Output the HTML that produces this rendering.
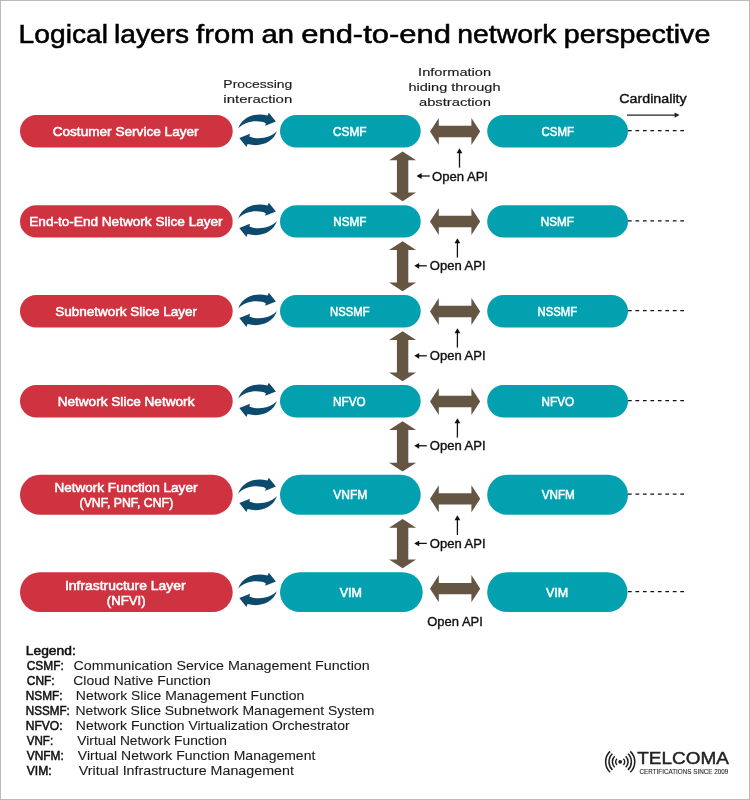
<!DOCTYPE html><html><head><meta charset="utf-8"><style>html,body{margin:0;padding:0;background:#fff;overflow:hidden}svg{display:block;will-change:transform}text{font-family:"Liberation Sans",sans-serif}</style></head><body>
<svg width="750" height="800" viewBox="0 0 750 800">
<rect x="0" y="0" width="750" height="800" fill="#fff"/>
<rect x="0.5" y="0.5" width="749" height="799" fill="none" stroke="#bbbbbb" stroke-width="1"/>
<line x1="627" y1="115.1" x2="675" y2="115.1" stroke="#222" stroke-width="1.2"/>
<path d="M679.6 115.1 L674.6 112.4 L674.6 117.8 Z" fill="#222"/>
<rect x="20" y="115" width="212.7" height="32.5" rx="16.25" ry="16.25" fill="#cf3340"/>
<rect x="280" y="115" width="140.7" height="32.5" rx="16.25" ry="16.25" fill="#03a0b0"/>
<rect x="487.2" y="115" width="140.8" height="32.5" rx="16.25" ry="16.25" fill="#03a0b0"/>
<g transform="translate(257.6 129.8)" fill="#0c4a6e"><path d="M-19.4 -1.3 C-15.5 -12.3 -4 -17.8 10 -14.3 L11.2 -17.1 L18.3 -8.2 L7.6 -4 L8.2 -6.6 C2 -9.8 -12 -9.6 -19.4 -1.3 Z"/><path d="M-19.4 -1.3 C-15.5 -12.3 -4 -17.8 10 -14.3 L11.2 -17.1 L18.3 -8.2 L7.6 -4 L8.2 -6.6 C2 -9.8 -12 -9.6 -19.4 -1.3 Z" transform="rotate(180)"/></g>
<rect x="20" y="205.3" width="212.7" height="32.2" rx="16.1" ry="16.1" fill="#cf3340"/>
<rect x="280" y="205.3" width="140.7" height="32.2" rx="16.1" ry="16.1" fill="#03a0b0"/>
<rect x="487.2" y="205.3" width="140.8" height="32.2" rx="16.1" ry="16.1" fill="#03a0b0"/>
<g transform="translate(257.6 219.8)" fill="#0c4a6e"><path d="M-19.4 -1.3 C-15.5 -12.3 -4 -17.8 10 -14.3 L11.2 -17.1 L18.3 -8.2 L7.6 -4 L8.2 -6.6 C2 -9.8 -12 -9.6 -19.4 -1.3 Z"/><path d="M-19.4 -1.3 C-15.5 -12.3 -4 -17.8 10 -14.3 L11.2 -17.1 L18.3 -8.2 L7.6 -4 L8.2 -6.6 C2 -9.8 -12 -9.6 -19.4 -1.3 Z" transform="rotate(180)"/></g>
<rect x="20" y="295" width="212.7" height="32.5" rx="16.25" ry="16.25" fill="#cf3340"/>
<rect x="280" y="295" width="140.7" height="32.5" rx="16.25" ry="16.25" fill="#03a0b0"/>
<rect x="487.2" y="295" width="140.8" height="32.5" rx="16.25" ry="16.25" fill="#03a0b0"/>
<g transform="translate(257.6 309.8)" fill="#0c4a6e"><path d="M-19.4 -1.3 C-15.5 -12.3 -4 -17.8 10 -14.3 L11.2 -17.1 L18.3 -8.2 L7.6 -4 L8.2 -6.6 C2 -9.8 -12 -9.6 -19.4 -1.3 Z"/><path d="M-19.4 -1.3 C-15.5 -12.3 -4 -17.8 10 -14.3 L11.2 -17.1 L18.3 -8.2 L7.6 -4 L8.2 -6.6 C2 -9.8 -12 -9.6 -19.4 -1.3 Z" transform="rotate(180)"/></g>
<rect x="20" y="385" width="212.7" height="32.5" rx="16.25" ry="16.25" fill="#cf3340"/>
<rect x="280" y="385" width="140.7" height="32.5" rx="16.25" ry="16.25" fill="#03a0b0"/>
<rect x="487.2" y="385" width="140.8" height="32.5" rx="16.25" ry="16.25" fill="#03a0b0"/>
<g transform="translate(257.6 399.8)" fill="#0c4a6e"><path d="M-19.4 -1.3 C-15.5 -12.3 -4 -17.8 10 -14.3 L11.2 -17.1 L18.3 -8.2 L7.6 -4 L8.2 -6.6 C2 -9.8 -12 -9.6 -19.4 -1.3 Z"/><path d="M-19.4 -1.3 C-15.5 -12.3 -4 -17.8 10 -14.3 L11.2 -17.1 L18.3 -8.2 L7.6 -4 L8.2 -6.6 C2 -9.8 -12 -9.6 -19.4 -1.3 Z" transform="rotate(180)"/></g>
<rect x="20" y="474.8" width="212.7" height="40" rx="20.0" ry="20.0" fill="#cf3340"/>
<rect x="280" y="474.8" width="140.7" height="40" rx="20.0" ry="20.0" fill="#03a0b0"/>
<rect x="487.2" y="474.8" width="140.8" height="40" rx="20.0" ry="20.0" fill="#03a0b0"/>
<g transform="translate(257.6 494.8)" fill="#0c4a6e"><path d="M-19.4 -1.3 C-15.5 -12.3 -4 -17.8 10 -14.3 L11.2 -17.1 L18.3 -8.2 L7.6 -4 L8.2 -6.6 C2 -9.8 -12 -9.6 -19.4 -1.3 Z"/><path d="M-19.4 -1.3 C-15.5 -12.3 -4 -17.8 10 -14.3 L11.2 -17.1 L18.3 -8.2 L7.6 -4 L8.2 -6.6 C2 -9.8 -12 -9.6 -19.4 -1.3 Z" transform="rotate(180)"/></g>
<rect x="20" y="572.2" width="212.7" height="39.9" rx="19.95" ry="19.95" fill="#cf3340"/>
<rect x="280" y="572.2" width="142.7" height="39.9" rx="19.95" ry="19.95" fill="#03a0b0"/>
<rect x="487.2" y="572.2" width="140.3" height="39.9" rx="19.95" ry="19.95" fill="#03a0b0"/>
<g transform="translate(257.6 589.8)" fill="#0c4a6e"><path d="M-19.4 -1.3 C-15.5 -12.3 -4 -17.8 10 -14.3 L11.2 -17.1 L18.3 -8.2 L7.6 -4 L8.2 -6.6 C2 -9.8 -12 -9.6 -19.4 -1.3 Z"/><path d="M-19.4 -1.3 C-15.5 -12.3 -4 -17.8 10 -14.3 L11.2 -17.1 L18.3 -8.2 L7.6 -4 L8.2 -6.6 C2 -9.8 -12 -9.6 -19.4 -1.3 Z" transform="rotate(180)"/></g>
<path d="M430 131.5 L438.8 117.9 L438.8 125.85 L471.4 125.85 L471.4 117.9 L480.2 131.5 L471.4 145.1 L471.4 137.15 L438.8 137.15 L438.8 145.1 Z" fill="#655644"/>
<path d="M430 221.5 L438.8 207.9 L438.8 215.85 L471.4 215.85 L471.4 207.9 L480.2 221.5 L471.4 235.1 L471.4 227.15 L438.8 227.15 L438.8 235.1 Z" fill="#655644"/>
<path d="M430 311.5 L438.8 297.9 L438.8 305.85 L471.4 305.85 L471.4 297.9 L480.2 311.5 L471.4 325.1 L471.4 317.15 L438.8 317.15 L438.8 325.1 Z" fill="#655644"/>
<path d="M430 401.5 L438.8 387.9 L438.8 395.85 L471.4 395.85 L471.4 387.9 L480.2 401.5 L471.4 415.1 L471.4 407.15 L438.8 407.15 L438.8 415.1 Z" fill="#655644"/>
<path d="M430 498.8 L438.8 485.2 L438.8 493.15000000000003 L471.4 493.15000000000003 L471.4 485.2 L480.2 498.8 L471.4 512.4 L471.4 504.45 L438.8 504.45 L438.8 512.4 Z" fill="#655644"/>
<path d="M430 588.7 L438.8 575.1 L438.8 583.0500000000001 L471.4 583.0500000000001 L471.4 575.1 L480.2 588.7 L471.4 602.3000000000001 L471.4 594.35 L438.8 594.35 L438.8 602.3000000000001 Z" fill="#655644"/>
<line x1="628" y1="130.65" x2="684" y2="130.65" stroke="#111" stroke-width="1.3" stroke-dasharray="3.7 3.77"/>
<line x1="628" y1="220.8" x2="684" y2="220.8" stroke="#111" stroke-width="1.3" stroke-dasharray="3.7 3.77"/>
<line x1="628" y1="310.65" x2="684" y2="310.65" stroke="#111" stroke-width="1.3" stroke-dasharray="3.7 3.77"/>
<line x1="628" y1="400.65" x2="684" y2="400.65" stroke="#111" stroke-width="1.3" stroke-dasharray="3.7 3.77"/>
<line x1="628" y1="494.2" x2="684" y2="494.2" stroke="#111" stroke-width="1.3" stroke-dasharray="3.7 3.77"/>
<line x1="628" y1="591.5500000000001" x2="684" y2="591.5500000000001" stroke="#111" stroke-width="1.3" stroke-dasharray="3.7 3.77"/>
<path d="M402.6 151.4 L416.1 160.20000000000002 L408.3 160.20000000000002 L408.3 192.5 L416.1 192.5 L402.6 201.3 L389.1 192.5 L396.90000000000003 192.5 L396.90000000000003 160.20000000000002 L389.1 160.20000000000002 Z" fill="#655644"/>
<path d="M402.6 241.2 L416.1 250.0 L408.3 250.0 L408.3 282.4 L416.1 282.4 L402.6 291.2 L389.1 282.4 L396.90000000000003 282.4 L396.90000000000003 250.0 L389.1 250.0 Z" fill="#655644"/>
<path d="M402.6 331.2 L416.1 340.0 L408.3 340.0 L408.3 372.4 L416.1 372.4 L402.6 381.2 L389.1 372.4 L396.90000000000003 372.4 L396.90000000000003 340.0 L389.1 340.0 Z" fill="#655644"/>
<path d="M402.6 421.2 L416.1 430.0 L408.3 430.0 L408.3 462.7 L416.1 462.7 L402.6 471.5 L389.1 462.7 L396.90000000000003 462.7 L396.90000000000003 430.0 L389.1 430.0 Z" fill="#655644"/>
<path d="M402.6 519 L416.1 527.8 L408.3 527.8 L408.3 559.5 L416.1 559.5 L402.6 568.3 L389.1 559.5 L396.90000000000003 559.5 L396.90000000000003 527.8 L389.1 527.8 Z" fill="#655644"/>
<line x1="459.5" y1="152.2" x2="459.5" y2="167.6" stroke="#111" stroke-width="1.3"/>
<path d="M459.5 148.2 L456.6 153.2 L462.4 153.2 Z" fill="#111"/>
<line x1="420.6" y1="176" x2="429.8" y2="176" stroke="#111" stroke-width="1.3"/>
<path d="M416.6 176 L421.6 173.1 L421.6 178.9 Z" fill="#111"/>
<line x1="457.4" y1="242.2" x2="457.4" y2="257.6" stroke="#111" stroke-width="1.3"/>
<path d="M457.4 238.2 L454.5 243.2 L460.29999999999995 243.2 Z" fill="#111"/>
<line x1="418.2" y1="265.8" x2="426.8" y2="265.8" stroke="#111" stroke-width="1.3"/>
<path d="M414.2 265.8 L419.2 262.90000000000003 L419.2 268.7 Z" fill="#111"/>
<line x1="457.4" y1="332.2" x2="457.4" y2="347.6" stroke="#111" stroke-width="1.3"/>
<path d="M457.4 328.2 L454.5 333.2 L460.29999999999995 333.2 Z" fill="#111"/>
<line x1="418.2" y1="355.8" x2="426.8" y2="355.8" stroke="#111" stroke-width="1.3"/>
<path d="M414.2 355.8 L419.2 352.90000000000003 L419.2 358.7 Z" fill="#111"/>
<line x1="457.4" y1="422.2" x2="457.4" y2="437.6" stroke="#111" stroke-width="1.3"/>
<path d="M457.4 418.2 L454.5 423.2 L460.29999999999995 423.2 Z" fill="#111"/>
<line x1="418.2" y1="445.8" x2="426.8" y2="445.8" stroke="#111" stroke-width="1.3"/>
<path d="M414.2 445.8 L419.2 442.90000000000003 L419.2 448.7 Z" fill="#111"/>
<line x1="457.4" y1="519.2" x2="457.4" y2="535" stroke="#111" stroke-width="1.3"/>
<path d="M457.4 515.2 L454.5 520.2 L460.29999999999995 520.2 Z" fill="#111"/>
<line x1="418.2" y1="543.4" x2="426.8" y2="543.4" stroke="#111" stroke-width="1.3"/>
<path d="M414.2 543.4 L419.2 540.5 L419.2 546.3 Z" fill="#111"/>
<g fill="none" stroke="#231f20" stroke-width="1.55" stroke-linecap="butt">
<path d="M617.00 758.71 A4.45 4.45 0 0 0 617.00 764.89"/>
<path d="M623.40 758.71 A4.45 4.45 0 0 1 623.40 764.89"/>
<path d="M614.68 756.28 A7.8 7.8 0 0 0 614.68 767.32"/>
<path d="M625.72 756.28 A7.8 7.8 0 0 1 625.72 767.32"/>
<path d="M612.42 753.74 A11.2 11.2 0 0 0 612.42 769.86"/>
<path d="M627.98 753.74 A11.2 11.2 0 0 1 627.98 769.86"/>
<path d="M610.09 751.33 A14.55 14.55 0 0 0 610.09 772.27"/>
<path d="M630.31 751.33 A14.55 14.55 0 0 1 630.31 772.27"/>
</g><circle cx="620.2" cy="761.8" r="1.9" fill="#231f20"/>
<text x="18.63" y="42.7" font-size="26.5" font-weight="normal" fill="#000" textLength="89.35" lengthAdjust="spacingAndGlyphs" stroke="#000" stroke-width="0.55">Logical</text>
<text x="114.02" y="42.7" font-size="26.5" font-weight="normal" fill="#000" textLength="75.15" lengthAdjust="spacingAndGlyphs" stroke="#000" stroke-width="0.55">layers</text>
<text x="196.12" y="42.7" font-size="26.5" font-weight="normal" fill="#000" textLength="58.45" lengthAdjust="spacingAndGlyphs" stroke="#000" stroke-width="0.55">from</text>
<text x="261.42" y="42.7" font-size="26.5" font-weight="normal" fill="#000" textLength="32.55" lengthAdjust="spacingAndGlyphs" stroke="#000" stroke-width="0.55">an</text>
<text x="301.23" y="42.7" font-size="26.5" font-weight="normal" fill="#000" textLength="149.75" lengthAdjust="spacingAndGlyphs" stroke="#000" stroke-width="0.55">end-to-end</text>
<text x="457.22" y="42.7" font-size="26.5" font-weight="normal" fill="#000" textLength="99.35" lengthAdjust="spacingAndGlyphs" stroke="#000" stroke-width="0.55">network</text>
<text x="563.83" y="42.7" font-size="26.5" font-weight="normal" fill="#000" textLength="146.55" lengthAdjust="spacingAndGlyphs" stroke="#000" stroke-width="0.55">perspective</text>
<text x="223.38" y="88" font-size="11.8" font-weight="normal" fill="#1a1a1a" textLength="68.83" lengthAdjust="spacingAndGlyphs" stroke="#1a1a1a" stroke-width="0.15">Processing</text>
<text x="223.38" y="102.7" font-size="11.8" font-weight="normal" fill="#1a1a1a" textLength="68.83" lengthAdjust="spacingAndGlyphs" stroke="#1a1a1a" stroke-width="0.15">interaction</text>
<text x="418.08" y="75.9" font-size="11.8" font-weight="normal" fill="#1a1a1a" textLength="72.93" lengthAdjust="spacingAndGlyphs" stroke="#1a1a1a" stroke-width="0.15">Information</text>
<text x="408.48" y="90.9" font-size="11.8" font-weight="normal" fill="#1a1a1a" textLength="92.03" lengthAdjust="spacingAndGlyphs" stroke="#1a1a1a" stroke-width="0.15">hiding through</text>
<text x="418.98" y="105.9" font-size="11.8" font-weight="normal" fill="#1a1a1a" textLength="72.03" lengthAdjust="spacingAndGlyphs" stroke="#1a1a1a" stroke-width="0.15">abstraction</text>
<text x="619.22" y="103" font-size="13.5" font-weight="normal" fill="#111" textLength="67.45" lengthAdjust="spacingAndGlyphs" stroke="#111" stroke-width="0.4">Cardinality</text>
<text x="52.65" y="136.1" font-size="13.2" font-weight="normal" fill="#fff" textLength="146.00" lengthAdjust="spacingAndGlyphs" stroke="#fff" stroke-width="0.55">Costumer Service Layer</text>
<text x="333.02" y="135.9" font-size="13" font-weight="normal" fill="#fff" textLength="33.55" lengthAdjust="spacingAndGlyphs" stroke="#fff" stroke-width="0.55">CSMF</text>
<text x="541.53" y="135.9" font-size="13" font-weight="normal" fill="#fff" textLength="32.55" lengthAdjust="spacingAndGlyphs" stroke="#fff" stroke-width="0.55">CSMF</text>
<text x="29.25" y="225.7" font-size="13.2" font-weight="normal" fill="#fff" textLength="193.40" lengthAdjust="spacingAndGlyphs" stroke="#fff" stroke-width="0.55">End-to-End Network Slice Layer</text>
<text x="333.23" y="226" font-size="13" font-weight="normal" fill="#fff" textLength="33.15" lengthAdjust="spacingAndGlyphs" stroke="#fff" stroke-width="0.55">NSMF</text>
<text x="540.72" y="226" font-size="13" font-weight="normal" fill="#fff" textLength="33.15" lengthAdjust="spacingAndGlyphs" stroke="#fff" stroke-width="0.55">NSMF</text>
<text x="55.15" y="315.7" font-size="13.2" font-weight="normal" fill="#fff" textLength="141.90" lengthAdjust="spacingAndGlyphs" stroke="#fff" stroke-width="0.55">Subnetwork Slice Layer</text>
<text x="330.07" y="315.9" font-size="13" font-weight="normal" fill="#fff" textLength="39.45" lengthAdjust="spacingAndGlyphs" stroke="#fff" stroke-width="0.55">NSSMF</text>
<text x="537.58" y="315.9" font-size="13" font-weight="normal" fill="#fff" textLength="39.45" lengthAdjust="spacingAndGlyphs" stroke="#fff" stroke-width="0.55">NSSMF</text>
<text x="57.65" y="406.1" font-size="13.2" font-weight="normal" fill="#fff" textLength="136.80" lengthAdjust="spacingAndGlyphs" stroke="#fff" stroke-width="0.55">Network Slice Network</text>
<text x="333.07" y="405.9" font-size="13" font-weight="normal" fill="#fff" textLength="32.45" lengthAdjust="spacingAndGlyphs" stroke="#fff" stroke-width="0.55">NFVO</text>
<text x="541.57" y="405.9" font-size="13" font-weight="normal" fill="#fff" textLength="32.45" lengthAdjust="spacingAndGlyphs" stroke="#fff" stroke-width="0.55">NFVO</text>
<text x="54.45" y="492.2" font-size="13.2" font-weight="normal" fill="#fff" textLength="143.00" lengthAdjust="spacingAndGlyphs" stroke="#fff" stroke-width="0.55">Network Function Layer</text>
<text x="79.55" y="506.8" font-size="13.2" font-weight="normal" fill="#fff" textLength="93.70" lengthAdjust="spacingAndGlyphs" stroke="#fff" stroke-width="0.55">(VNF, PNF, CNF)</text>
<text x="333.23" y="499.3" font-size="13" font-weight="normal" fill="#fff" textLength="34.15" lengthAdjust="spacingAndGlyphs" stroke="#fff" stroke-width="0.55">VNFM</text>
<text x="541.72" y="499.3" font-size="13" font-weight="normal" fill="#fff" textLength="33.15" lengthAdjust="spacingAndGlyphs" stroke="#fff" stroke-width="0.55">VNFM</text>
<text x="64.95" y="589.8" font-size="13.2" font-weight="normal" fill="#fff" textLength="120.60" lengthAdjust="spacingAndGlyphs" stroke="#fff" stroke-width="0.55">Infrastructure Layer</text>
<text x="106.85" y="604.8" font-size="13.2" font-weight="normal" fill="#fff" textLength="38.70" lengthAdjust="spacingAndGlyphs" stroke="#fff" stroke-width="0.55">(NFVI)</text>
<text x="339.77" y="596.8" font-size="13" font-weight="normal" fill="#fff" textLength="22.25" lengthAdjust="spacingAndGlyphs" stroke="#fff" stroke-width="0.55">VIM</text>
<text x="545.88" y="596.8" font-size="13" font-weight="normal" fill="#fff" textLength="22.25" lengthAdjust="spacingAndGlyphs" stroke="#fff" stroke-width="0.55">VIM</text>
<text x="431.98" y="180.8" font-size="12.3" font-weight="normal" fill="#111" textLength="56.03" lengthAdjust="spacingAndGlyphs" stroke="#111" stroke-width="0.35">Open API</text>
<text x="429.79" y="270.2" font-size="12.3" font-weight="normal" fill="#111" textLength="55.83" lengthAdjust="spacingAndGlyphs" stroke="#111" stroke-width="0.35">Open API</text>
<text x="429.79" y="360.2" font-size="12.3" font-weight="normal" fill="#111" textLength="55.83" lengthAdjust="spacingAndGlyphs" stroke="#111" stroke-width="0.35">Open API</text>
<text x="429.79" y="450.2" font-size="12.3" font-weight="normal" fill="#111" textLength="55.83" lengthAdjust="spacingAndGlyphs" stroke="#111" stroke-width="0.35">Open API</text>
<text x="429.79" y="548" font-size="12.3" font-weight="normal" fill="#111" textLength="55.83" lengthAdjust="spacingAndGlyphs" stroke="#111" stroke-width="0.35">Open API</text>
<text x="427.29" y="625.8" font-size="12.3" font-weight="normal" fill="#111" textLength="55.53" lengthAdjust="spacingAndGlyphs" stroke="#111" stroke-width="0.35">Open API</text>
<text x="25.79" y="655.2" font-size="12" font-weight="normal" fill="#111" textLength="50.03" lengthAdjust="spacingAndGlyphs" stroke="#111" stroke-width="0.5">Legend:</text>
<text x="26.79" y="670.2" font-size="12" font-weight="normal" fill="#111" textLength="37.03" lengthAdjust="spacingAndGlyphs" stroke="#111" stroke-width="0.5">CSMF:</text>
<text x="73.49" y="670.2" font-size="12" font-weight="normal" fill="#1a1a1a" textLength="296.23" lengthAdjust="spacingAndGlyphs" stroke="#1a1a1a" stroke-width="0.08">Communication Service Management Function</text>
<text x="26.79" y="685.2" font-size="12" font-weight="normal" fill="#111" textLength="27.83" lengthAdjust="spacingAndGlyphs" stroke="#111" stroke-width="0.5">CNF:</text>
<text x="73.28" y="685.2" font-size="12" font-weight="normal" fill="#1a1a1a" textLength="137.63" lengthAdjust="spacingAndGlyphs" stroke="#1a1a1a" stroke-width="0.08">Cloud Native Function</text>
<text x="25.79" y="700.2" font-size="12" font-weight="normal" fill="#111" textLength="36.73" lengthAdjust="spacingAndGlyphs" stroke="#111" stroke-width="0.5">NSMF:</text>
<text x="75.89" y="700.2" font-size="12" font-weight="normal" fill="#1a1a1a" textLength="228.33" lengthAdjust="spacingAndGlyphs" stroke="#1a1a1a" stroke-width="0.08">Network Slice Management Function</text>
<text x="25.79" y="715.2" font-size="12" font-weight="normal" fill="#111" textLength="44.03" lengthAdjust="spacingAndGlyphs" stroke="#111" stroke-width="0.5">NSSMF:</text>
<text x="75.49" y="715.2" font-size="12" font-weight="normal" fill="#1a1a1a" textLength="299.03" lengthAdjust="spacingAndGlyphs" stroke="#1a1a1a" stroke-width="0.08">Network Slice Subnetwork Management System</text>
<text x="25.79" y="730.2" font-size="12" font-weight="normal" fill="#111" textLength="36.73" lengthAdjust="spacingAndGlyphs" stroke="#111" stroke-width="0.5">NFVO:</text>
<text x="75.89" y="730.2" font-size="12" font-weight="normal" fill="#1a1a1a" textLength="273.73" lengthAdjust="spacingAndGlyphs" stroke="#1a1a1a" stroke-width="0.08">Network Function Virtualization Orchestrator</text>
<text x="26.79" y="745.2" font-size="12" font-weight="normal" fill="#111" textLength="26.33" lengthAdjust="spacingAndGlyphs" stroke="#111" stroke-width="0.5">VNF:</text>
<text x="77.39" y="745.2" font-size="12" font-weight="normal" fill="#1a1a1a" textLength="149.43" lengthAdjust="spacingAndGlyphs" stroke="#1a1a1a" stroke-width="0.08">Virtual Network Function</text>
<text x="26.79" y="760.2" font-size="12" font-weight="normal" fill="#111" textLength="37.03" lengthAdjust="spacingAndGlyphs" stroke="#111" stroke-width="0.5">VNFM:</text>
<text x="77.89" y="760.2" font-size="12" font-weight="normal" fill="#1a1a1a" textLength="237.43" lengthAdjust="spacingAndGlyphs" stroke="#1a1a1a" stroke-width="0.08">Virtual Network Function Management</text>
<text x="26.79" y="775.2" font-size="12" font-weight="normal" fill="#111" textLength="24.83" lengthAdjust="spacingAndGlyphs" stroke="#111" stroke-width="0.5">VIM:</text>
<text x="78.78" y="775.2" font-size="12" font-weight="normal" fill="#1a1a1a" textLength="215.13" lengthAdjust="spacingAndGlyphs" stroke="#1a1a1a" stroke-width="0.08">Vritual Infrastructure Management</text>
<text x="637.25" y="763.7" font-size="17.2" font-weight="normal" fill="#231f20" textLength="91.60" lengthAdjust="spacingAndGlyphs" stroke="#231f20" stroke-width="0.45">TELCOMA</text>
<text x="639.56" y="773.7" font-size="6.8" font-weight="normal" fill="#231f20" textLength="88.68" lengthAdjust="spacingAndGlyphs" stroke="#231f20" stroke-width="0.1">CERTIFICATIONS SINCE 2009</text>
</svg></body></html>
